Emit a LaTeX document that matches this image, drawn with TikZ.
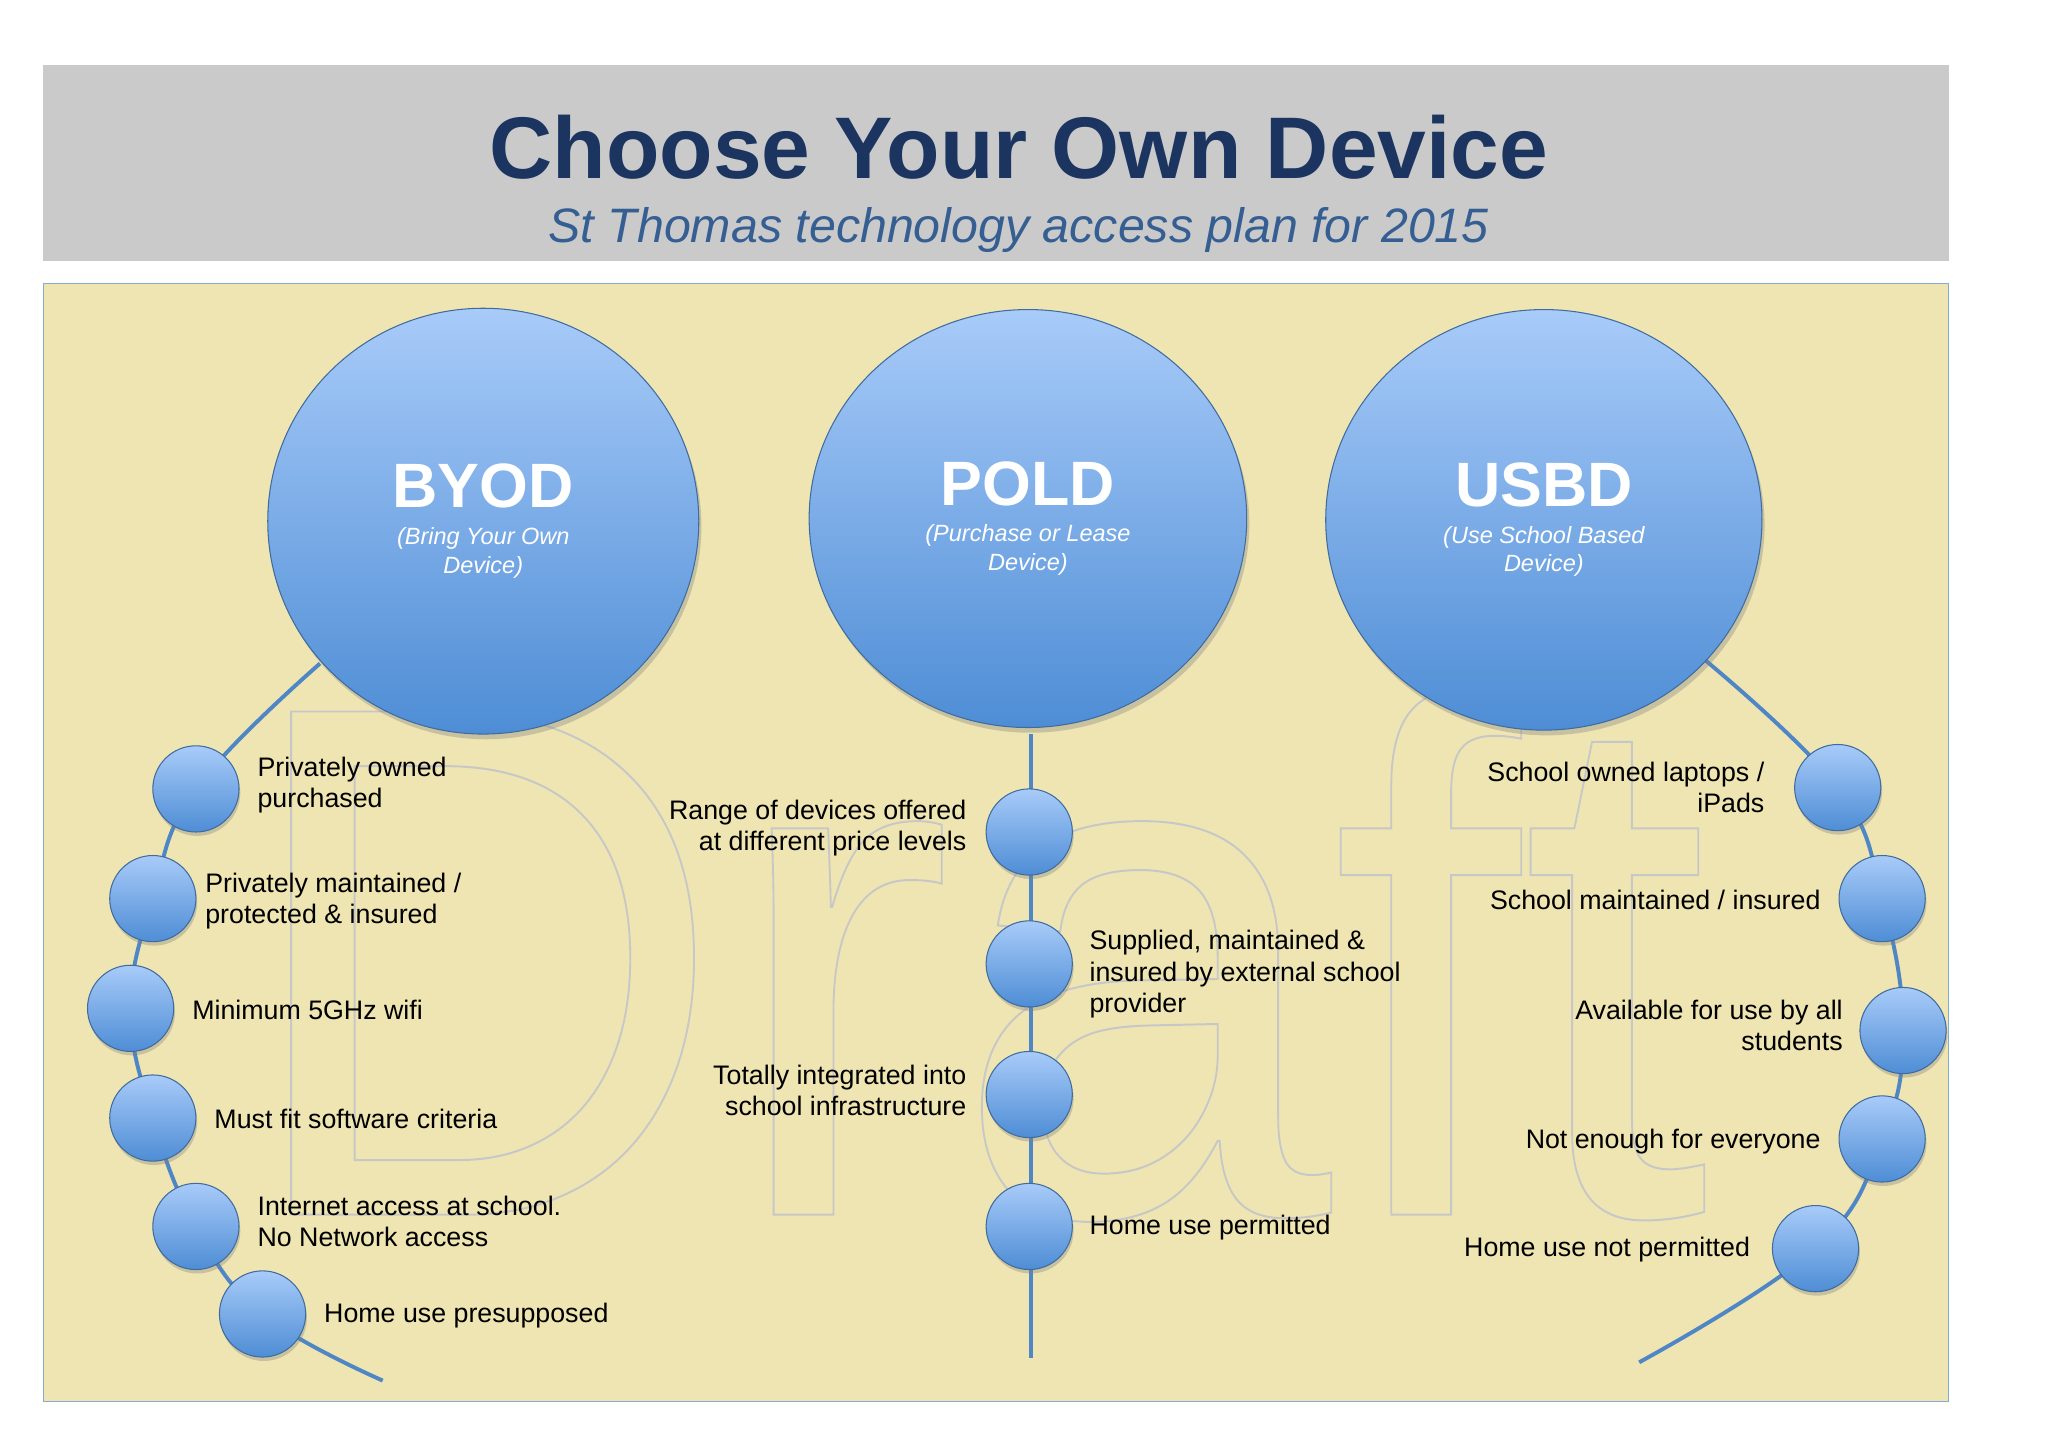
\documentclass[tikz,border=0pt]{standalone}
\usepackage{fontspec}
\setmainfont{Liberation Sans}
\usetikzlibrary{shadows,shapes.geometric}
\definecolor{navy}{HTML}{1B3560}
\definecolor{subblue}{HTML}{355E92}
\definecolor{band}{HTML}{CACACA}
\definecolor{panel}{HTML}{EEE5B2}
\definecolor{ctop}{HTML}{A8CBF9}
\definecolor{cbot}{HTML}{4E8DD5}
\definecolor{lineblue}{HTML}{4F86C6}
\tikzset{
  big/.style={ellipse, minimum width=330, minimum height=326, draw=lineblue!80!black, line width=0.8pt,
    top color=ctop, bottom color=cbot, drop shadow={shadow xshift=2pt, shadow yshift=-4pt, opacity=0.35}, align=center, text=white,
    font=\itshape\fontsize{18}{22}\selectfont},
  dot/.style={circle, minimum size=66, inner sep=0, draw=lineblue!80!black, line width=0.8pt,
    top color=ctop, bottom color=cbot, drop shadow={shadow xshift=1pt, shadow yshift=-3pt, opacity=0.35}},
  conn/.style={draw=lineblue, line width=3pt},
  lbl/.style={font=\fontsize{20.5}{24}\selectfont, align=left, inner sep=0},
  rlbl/.style={font=\fontsize{20.5}{24}\selectfont, align=right, inner sep=0},
}
\newcommand{\bigt}[1]{{\upshape\bfseries\fontsize{48}{52}\selectfont #1}}
\begin{document}
\begin{tikzpicture}[x=1pt,y=-1pt]
\useasboundingbox (0,0) rectangle (1568,1107);
\fill[white] (0,0) rectangle (1568,1107);
\fill[band] (33,50) rectangle (1492,200);
\node[font=\bfseries\fontsize{67}{72}\selectfont, text=navy, anchor=base] (title) at (780,137) {Choose Your Own Device};
\node[font=\itshape\fontsize{37}{40}\selectfont, text=subblue, anchor=base] (sub) at (780,186) {St Thomas technology access plan for 2015};
\filldraw[fill=panel, draw=lineblue!70, line width=0.8pt] (33,217) rectangle (1492,1073);
% watermark
\node[anchor=base west, inner sep=0, text=black!22, xscale=0.93, font=\fontsize{560}{560}\selectfont] (wm) at (180,930)
  {\special{pdf:literal direct 1 Tr 1.5 w}Draft\special{pdf:literal direct 0 Tr}};
% connectors
\coordinate (bs) at (245,508); \coordinate (be) at (293,1057);
\coordinate (ps) at (789,562); \coordinate (pe) at (789,1040);
\coordinate (us) at (1305,505); \coordinate (ue) at (1255,1043);
\draw[conn] plot[smooth, tension=0.7] coordinates {(bs) (150,604) (117,688) (100,772) (117,856) (150,939) (201,1006) (be)};
\draw[conn] (ps) -- (pe);
\draw[conn] plot[smooth, tension=0.7] coordinates {(us) (1407,603) (1441,688) (1457,789) (1441,872) (1390,956) (ue)};
% big circles
\node[big] (byod) at (370,399) {\bigt{BYOD}\\[6pt](Bring Your Own\\Device)};
\node[big, minimum width=335, minimum height=320] (pold) at (787,397) {\bigt{POLD}\\[6pt](Purchase or Lease\\Device)};
\node[big, minimum width=334, minimum height=322] (usbd) at (1182,398) {\bigt{USBD}\\[6pt](Use School Based\\Device)};
% BYOD dots
\node[dot] (b1) at (150,604) {}; \node[dot] (b2) at (117,688) {}; \node[dot] (b3) at (100,772) {};
\node[dot] (b4) at (117,856) {}; \node[dot] (b5) at (150,939) {}; \node[dot] (b6) at (201,1006) {};
\node[lbl, anchor=west] (bt1) at (197,601) {Privately owned\\purchased};
\node[lbl, anchor=west] (bt2) at (157,690) {Privately maintained /\\protected \& insured};
\node[lbl, anchor=west] (bt3) at (147,773) {Minimum 5GHz wifi};
\node[lbl, anchor=west] (bt4) at (164,857) {Must fit software criteria};
\node[lbl, anchor=west] (bt5) at (197,935) {Internet access at school.\\No Network access};
\node[lbl, anchor=west] (bt6) at (248,1007) {Home use presupposed};
% POLD dots
\node[dot] (p1) at (788,637) {}; \node[dot] (p2) at (788,738) {};
\node[dot] (p3) at (788,838) {}; \node[dot] (p4) at (788,939) {};
\node[rlbl, anchor=east] (pt1) at (740,634) {Range of devices offered\\at different price levels};
\node[lbl, anchor=west] (pt2) at (834,746) {Supplied, maintained \&\\insured by external school\\provider};
\node[rlbl, anchor=east] (pt3) at (740,835) {Totally integrated into\\school infrastructure};
\node[lbl, anchor=west] (pt4) at (834,940) {Home use permitted};
% USBD dots
\node[dot] (u1) at (1407,603) {}; \node[dot] (u2) at (1441,688) {}; \node[dot] (u3) at (1457,789) {};
\node[dot] (u4) at (1441,872) {}; \node[dot] (u5) at (1390,956) {};
\node[rlbl, anchor=east] (ut1) at (1351,603) {School owned laptops /\\iPads};
\node[rlbl, anchor=east] (ut2) at (1394,689) {School maintained / insured};
\node[rlbl, anchor=east] (ut3) at (1411,785) {Available for use by all\\students};
\node[rlbl, anchor=east] (ut4) at (1394,874) {Not enough for everyone};
\node[rlbl, anchor=east] (ut5) at (1340,957) {Home use not permitted};
\end{tikzpicture}
\end{document}
